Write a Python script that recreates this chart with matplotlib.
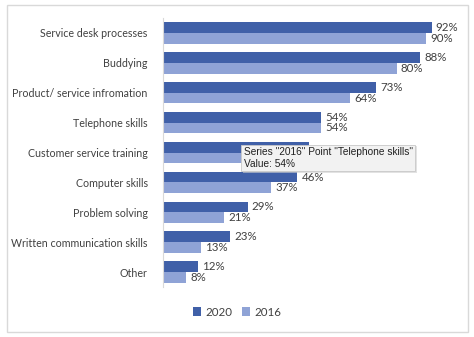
import matplotlib
matplotlib.use("Agg")
import matplotlib.pyplot as plt
import numpy as np
from matplotlib.patches import Rectangle

categories = ["Service desk processes", "Buddying", "Product/ service infromation",
              "Telephone skills", "Customer service training", "Computer skills",
              "Problem solving", "Written communication skills", "Other"]
vals_2020 = [92, 88, 73, 54, 50, 46, 29, 23, 12]
vals_2016 = [90, 80, 64, 54, 44, 37, 21, 13, 8]
series = ["2020", "2016"]
hidden = "Customer service training"   # its labels sit under the tooltip

C2020 = "#4060a8"
C2016 = "#8fa3d6"
TXT = "#404040"

plt.rcParams["font.family"] = ["Lato", "DejaVu Sans"]

fig = plt.figure(figsize=(4.74, 3.37), dpi=100)
fig.patch.set_facecolor("white")
fig.patches.append(Rectangle((7 / 474, 5 / 337), 461 / 474, 327 / 337, transform=fig.transFigure,
                             fill=False, edgecolor="#d9d9d9", linewidth=1.0))

ax = fig.add_axes([163 / 474, 50 / 337, 292 / 474, 269 / 337])
y = np.arange(len(categories))
h = 0.357
b1 = ax.barh(y - h / 2, vals_2020, height=h, color=C2020, label=series[0])
b2 = ax.barh(y + h / 2, vals_2016, height=h, color=C2016, label=series[1])
ax.set_ylim(len(categories) - 0.5, -0.5)
ax.set_xlim(0, 100)
ax.set_yticks(y)
ax.set_yticklabels(categories, fontsize=7.7, color=TXT)
ax.tick_params(axis="y", length=0, pad=11)
ax.set_xticks([])
for s in ["top", "right", "bottom"]:
    ax.spines[s].set_visible(False)
ax.spines["left"].set_color("#d9d9d9")
ax.spines["left"].set_linewidth(0.8)

for bars in (b1, b2):
    labs = ["" if c == hidden else f"{v}%" for c, v in zip(categories, bars.datavalues)]
    ax.bar_label(bars, labels=labs, padding=3, fontsize=8.3, color=TXT)

# hover tooltip as seen in the screenshot
fig.patches.append(Rectangle((242.5 / 474, (337 - 172.5) / 337), 174 / 474, 26 / 337,
                             transform=fig.transFigure, facecolor="#d0d0d0",
                             edgecolor="none", alpha=0.6, zorder=9))
fig.patches.append(Rectangle((241 / 474, (337 - 171) / 337), 174 / 474, 26 / 337,
                             transform=fig.transFigure, facecolor="#f2f2f2",
                             edgecolor="#c8c8c8", linewidth=0.6, zorder=10))
fig.text(244 / 474, (337 - 152) / 337, 'Series "2016" Point "Telephone skills"',
         fontsize=7.3, color="#222222", family=["Liberation Sans", "DejaVu Sans"],
         va="center", zorder=11)
fig.text(244 / 474, (337 - 163.5) / 337, f"Value: {vals_2016[3]}%",
         fontsize=7.3, color="#222222", family=["Liberation Sans", "DejaVu Sans"],
         va="center", zorder=11)

fig.legend(handles=[b1, b2], labels=series, loc="center", bbox_to_anchor=(0.5, (337 - 312) / 337),
           ncol=2, frameon=False, fontsize=8.3, handlelength=0.7, handleheight=0.7,
           handletextpad=0.4, columnspacing=0.8, labelcolor=TXT)

fig.savefig("out.png", dpi=100, facecolor="white")
